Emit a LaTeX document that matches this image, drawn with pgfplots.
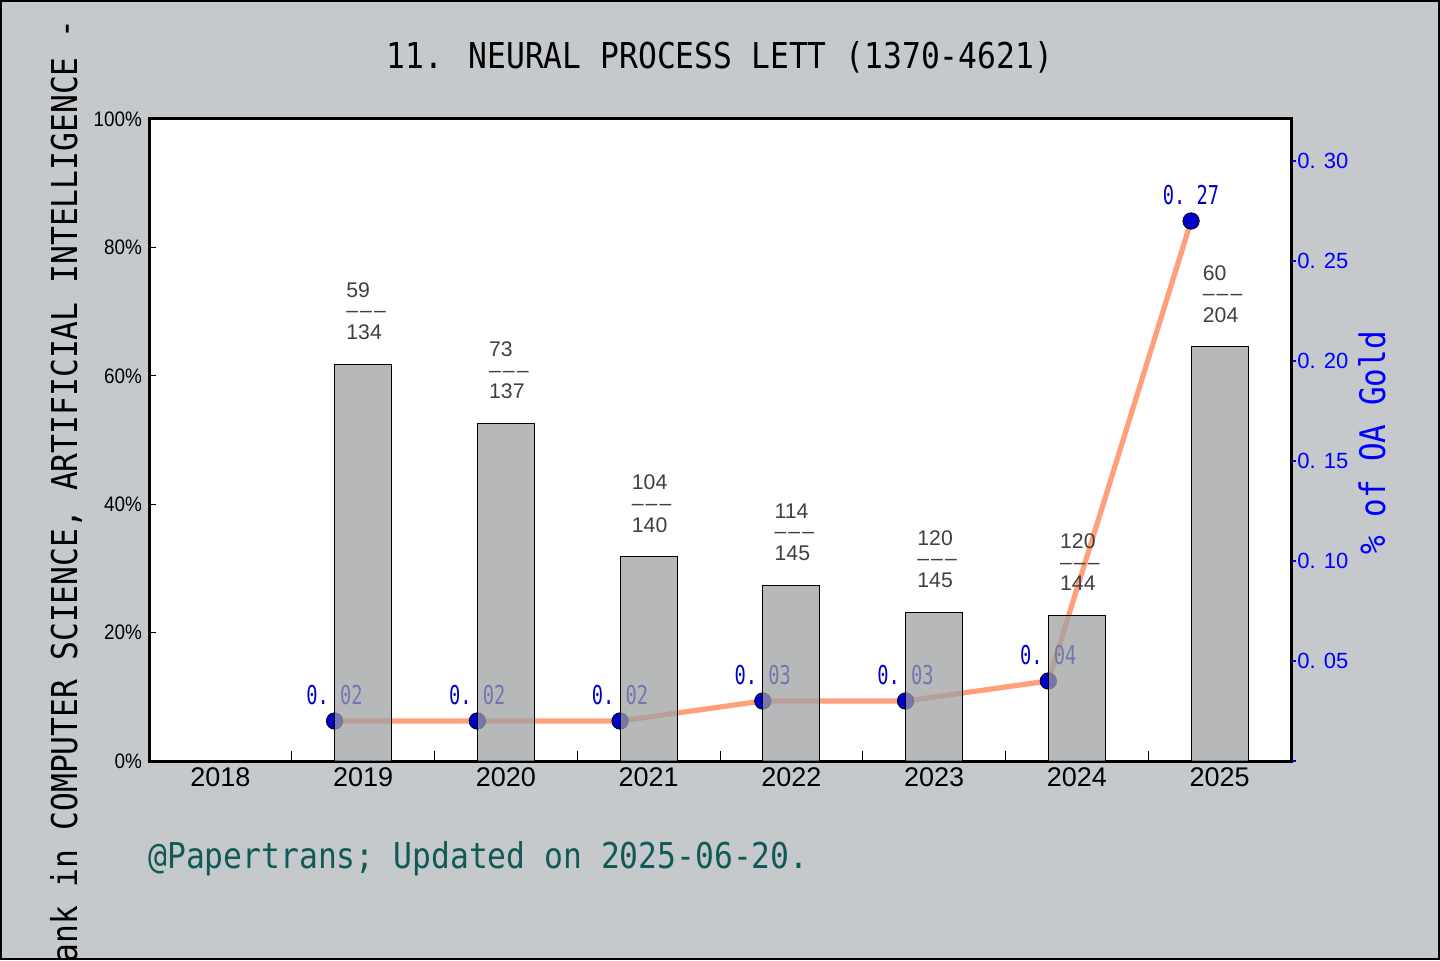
\documentclass[border=0pt]{standalone}
\usepackage{fontspec}
\setmainfont{Liberation Sans}
\newfontfamily\monoA[FakeStretch=0.88]{DejaVu Sans Mono}
\newfontfamily\monoB[FakeStretch=0.72]{DejaVu Sans Mono}
\newfontfamily\nsans[FakeStretch=0.9]{Liberation Sans}
\usepackage{pgfplots}
\pgfplotsset{compat=1.18}
\usepackage{pgfplotstable}
\definecolor{bgc}{RGB}{198,201,204}
\definecolor{barfill}{RGB}{158,160,162}
\definecolor{lsalmon}{RGB}{255,160,122}
\definecolor{mblue}{RGB}{0,0,205}
\definecolor{footteal}{RGB}{16,90,85}
\definecolor{labgray}{RGB}{64,64,64}
\definecolor{tickblue}{RGB}{0,0,255}

\pgfplotstableread{
x y num den
1 61.8 59 134
2 52.6 73 137
3 31.8 104 140
4 27.4 114 145
5 23.2 120 145
6 22.7 120 144
7 64.5 60 204
}\bars

\pgfplotstableread{
x y
0.8 0.02
1.8 0.02
2.8 0.02
3.8 0.03
4.8 0.03
5.8 0.04
6.8 0.27
}\oa

\begin{document}
\begin{tikzpicture}
\useasboundingbox (0pt,0pt) rectangle (720pt,480pt);
\fill[bgc] (0pt,0pt) rectangle (720pt,480pt);

% right axis: share of OA Gold (drawn first, bars overlay it)
\begin{axis}[
  at={(74.5pt,99.5pt)}, anchor=south west, scale only axis,
  width=571pt, height=321pt,
  xmin=-0.5, xmax=7.5, ymin=0, ymax=0.321,
  axis x line=none, axis y line*=right,
  axis line style={line width=1.5pt, black},
  axis background/.style={fill=white},
  ytick={0,0.05,0.1,0.15,0.2,0.25,0.3},
  yticklabels={,0. 05,0. 10,0. 15,0. 20,0. 25,0. 30},
  tick align=outside, major tick length=2.5pt,
  y tick style={tickblue, line width=0.6pt},
  yticklabel style={text=tickblue, font=\fontsize{11}{13}\selectfont, inner sep=0.5pt},
  clip=false,
]
\addplot[lsalmon, line width=2.6pt, mark=*, mark size=4.1pt,
  mark options={fill=mblue, draw=black, line width=0.4pt},
  point meta=y,
  nodes near coords={\pgfmathprintnumber[fixed,fixed zerofill,precision=2,assume math mode=true,set decimal separator={.\ }]{\pgfplotspointmeta}},
  every node near coord/.append style={font=\monoB\fontsize{13}{14}\selectfont, text=mblue, anchor=south, inner sep=0pt, yshift=8pt},
] table[x=x,y=y] {\oa};
\end{axis}

% left axis: bars
\begin{axis}[
  at={(74.5pt,99.5pt)}, anchor=south west, scale only axis,
  width=571pt, height=321pt,
  xmin=-0.5, xmax=7.5, ymin=0, ymax=100,
  axis line style={line width=1.5pt, black},
  xtick={0,1,2,3,4,5,6,7},
  xticklabels={2018,2019,2020,2021,2022,2023,2024,2025},
  minor xtick={0.5,1.5,2.5,3.5,4.5,5.5,6.5},
  ytick={0,20,40,60,80,100},
  yticklabels={0\%,20\%,40\%,60\%,80\%,100\%},
  xtick pos=bottom, ytick pos=left,
  tick align=inside,
  major tick length=3.5pt, minor tick length=5pt,
  major x tick style={draw=none},
  tick style={black, line width=0.5pt},
  xticklabel style={font=\fontsize{13.5}{15}\selectfont, text=black},
  yticklabel style={font=\nsans\fontsize{10.5}{12}\selectfont, text=black},
  clip=false,
]
\addplot[ybar, bar width=0.4, fill=barfill, fill opacity=0.74, draw=black, line width=0.5pt,
  visualization depends on={\thisrow{num}\as\numv},
  visualization depends on={\thisrow{den}\as\denv},
  nodes near coords={\pgfmathprintnumber[int trunc,assume math mode=true]{\numv}\\[-0.5pt]\textendash\kern1pt\textendash\kern1pt\textendash\\\pgfmathprintnumber[int trunc,assume math mode=true]{\denv}},
  every node near coord/.append style={font=\fontsize{10.6}{10.8}\selectfont, text=labgray, text opacity=1, fill opacity=1, align=left, anchor=south, inner sep=0pt, yshift=12pt, xshift=1.5pt},
] table[x=x,y=y] {\bars};
\end{axis}

\begin{scope}[x=0.5pt,y=0.5pt]
\node[anchor=base, inner sep=0pt, font=\monoA\fontsize{17.8}{20}\selectfont] at (720,891) {11. NEURAL PROCESS LETT (1370-4621)};
\node[anchor=base west, inner sep=0pt, text=footteal, font=\monoA\fontsize{17.8}{20}\selectfont] at (148,92) {@Papertrans; Updated on 2025-06-20.};
\node[rotate=90, anchor=base, inner sep=0pt, text=tickblue, font=\monoA\fontsize{17.6}{19}\selectfont] at (1385,517) {\% of OA Gold};
\begin{scope}
\clip (0,0) rectangle (1440,960);
\node[rotate=90, anchor=base east, inner sep=0pt, font=\monoA\fontsize{17.8}{20}\selectfont] at (77,941) {Rank in COMPUTER SCIENCE, ARTIFICIAL INTELLIGENCE -};
\end{scope}
\draw[black, line width=1pt] (1,1) rectangle (1439,959);
\end{scope}
\end{tikzpicture}
\end{document}
